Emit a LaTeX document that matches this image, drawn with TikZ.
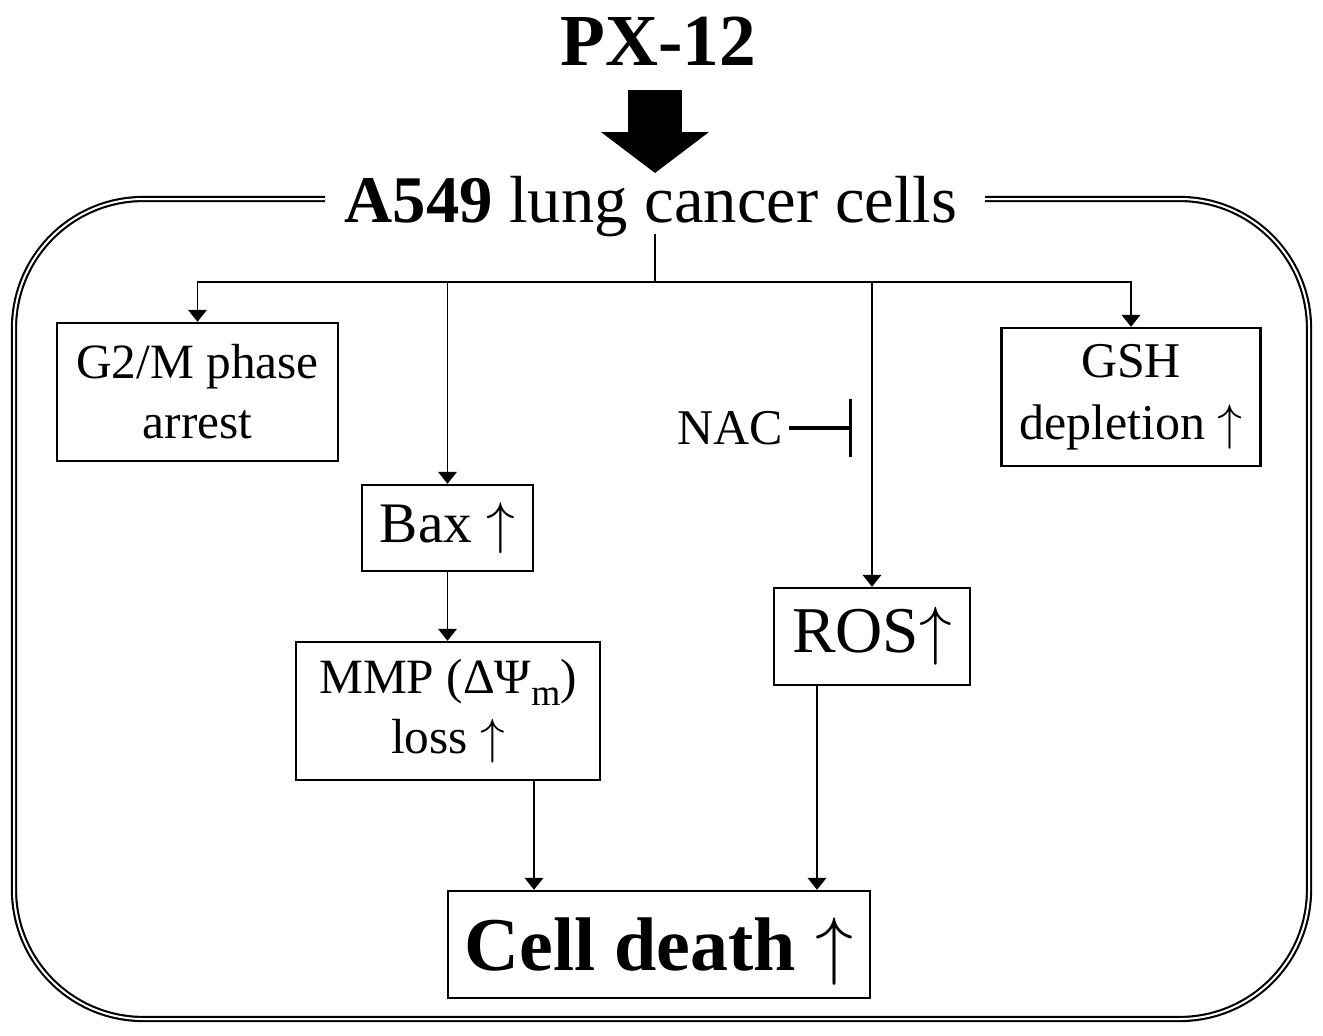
\RequirePackage{fix-cm}
\documentclass[tikz,border=0pt]{standalone}
\usepackage{fontspec}
\setmainfont{Liberation Serif}
\usetikzlibrary{arrows.meta}
\newcommand{\up}{$\uparrow$}
\newcommand{\msub}[1]{\raisebox{-0.25em}{\fontsize{28}{30}\selectfont #1}}

\begin{document}
\begin{tikzpicture}[x=0.75pt,y=0.75pt,
    box/.style={draw,line width=1.8pt,align=center,inner sep=0pt},
    arr/.style={-{Triangle[width=14pt,length=9pt]},line width=1.3pt},
    big/.style={line width=41pt,-{Triangle[width=79.5pt,length=30.75pt]}}]
  \useasboundingbox (0,0) rectangle (1323,-1035);
  % cell outline, open at the title
  \draw[double,line width=1.6pt,double distance=1.5pt,rounded corners=97pt]
    (325,-199) -- (14,-199) -- (14,-1019) -- (1309,-1019) -- (1309,-199) -- (985,-199);

  \node[anchor=base,font=\fontsize{55}{60}\selectfont\bfseries] (px) at (658,-65) {PX-12};
  \node[anchor=base,font=\fontsize{50}{60}\selectfont] (cells) at (651,-222) {\textbf{A549} lung cancer cells};
  \coordinate (shaft) at (655,-90);
  \coordinate (tip) at (655,-173);
  \draw[big] (shaft) -- (tip);

  \node[box,minimum width=210.75pt,minimum height=103.5pt,font=\fontsize{37}{45}\selectfont] (g2m) at (197.5,-392) {G2/M phase\\arrest};
  \node[box,minimum width=194.25pt,minimum height=103.5pt,font=\fontsize{37.5}{46.5}\selectfont] (gsh) at (1131,-397) {GSH\\depletion \up};
  \node[box,minimum width=128.25pt,minimum height=64.5pt,font=\fontsize{43}{50}\selectfont] (bax) at (447.5,-528) {Bax \up};
  \node[box,minimum width=228pt,minimum height=103.5pt,font=\fontsize{37}{45}\selectfont] (mmp) at (448,-711) {MMP (ΔΨ\msub{m})\\loss \up};
  \node[box,minimum width=147pt,minimum height=72.75pt,font=\fontsize{49}{55}\selectfont] (ros) at (872,-636.5) {ROS\up};
  \node[box,minimum width=316.5pt,minimum height=80.25pt,text depth=0pt,font=\fontsize{57}{60}\selectfont\bfseries] (death) at (659,-944.5) {Cell death \up};
  \node[anchor=east,inner sep=0pt,font=\fontsize{37.5}{45}\selectfont] (nac) at (783,-428) {NAC};

  % branches
  \coordinate (stem) at (655,-234);
  \coordinate (hub) at (655,-282);
  \coordinate (block) at (852,-428);
  \draw[line width=1.3pt] (stem) -- (hub);
  \draw[arr] (hub) -| (g2m.north);
  \draw[arr] (hub) -| (bax.north);
  \draw[arr] (hub) -| (ros.north);
  \draw[arr] (hub) -| (gsh.north);
  \draw[arr] (bax.south) -- (bax.south |- mmp.north);
  \draw[arr] ([xshift=64.5pt]mmp.south) -- ([xshift=64.5pt]mmp.south |- death.north);
  \draw[arr] ([xshift=-41.25pt]ros.south) -- ([xshift=-41.25pt]ros.south |- death.north);
  \draw[line width=2.6pt,shorten <=4.5pt,-{Bar[width=44pt]}] (nac.east) -- (block);
\end{tikzpicture}
\end{document}
